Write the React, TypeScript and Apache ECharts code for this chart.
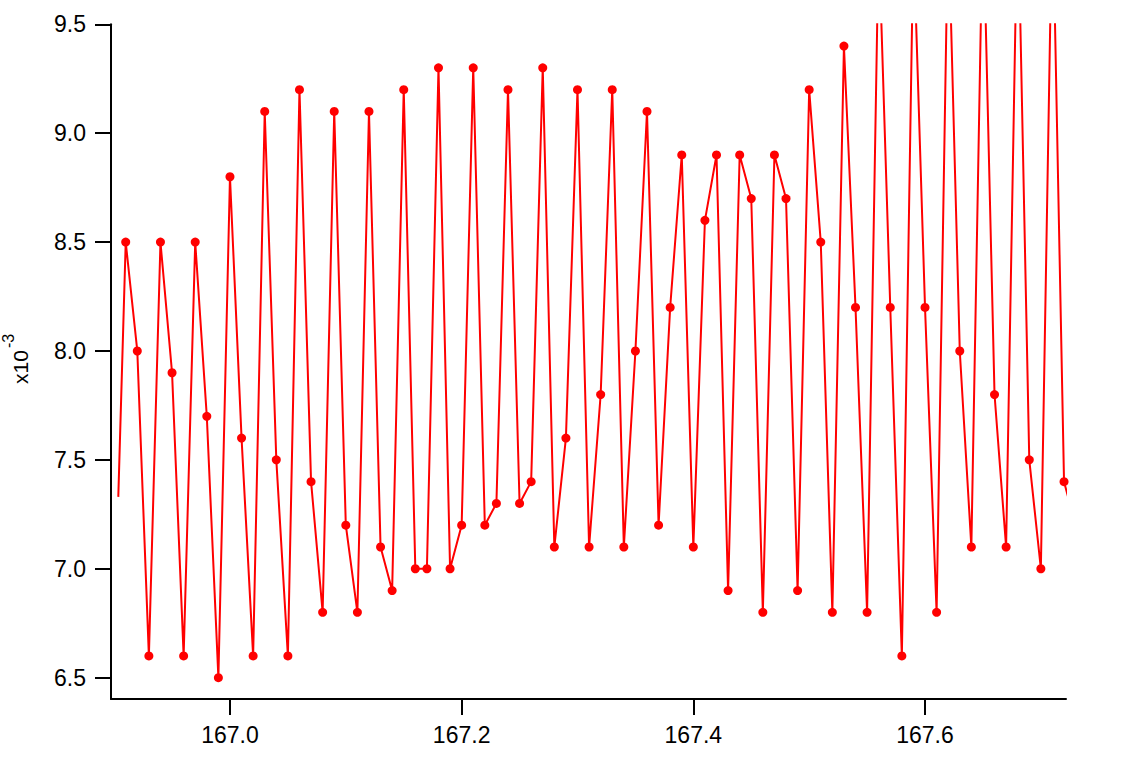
import React, { useEffect, useRef } from "react";
import * as echarts from "echarts";

// x positions of samples (the first is a partial segment entering the plot, the last one is clipped at the right edge)
const xValues = [
  166.9036, 166.91, 166.92, 166.93, 166.94, 166.95, 166.96, 166.97, 166.98, 166.99,
  167.0, 167.01, 167.02, 167.03, 167.04, 167.05, 167.06, 167.07, 167.08, 167.09,
  167.1, 167.11, 167.12, 167.13, 167.14, 167.15, 167.16, 167.17, 167.18, 167.19,
  167.2, 167.21, 167.22, 167.23, 167.24, 167.25, 167.26, 167.27, 167.28, 167.29,
  167.3, 167.31, 167.32, 167.33, 167.34, 167.35, 167.36, 167.37, 167.38, 167.39,
  167.4, 167.41, 167.42, 167.43, 167.44, 167.45, 167.46, 167.47, 167.48, 167.49,
  167.5, 167.51, 167.52, 167.53, 167.54, 167.55, 167.56, 167.57, 167.58, 167.59,
  167.6, 167.61, 167.62, 167.63, 167.64, 167.65, 167.66, 167.67, 167.68, 167.69,
  167.7, 167.71, 167.72, 167.73,
];

// values in units of 1e-3
const yValues = [
  7.33, 8.5, 8.0, 6.6, 8.5, 7.9, 6.6, 8.5, 7.7, 6.5,
  8.8, 7.6, 6.6, 9.1, 7.5, 6.6, 9.2, 7.4, 6.8, 9.1,
  7.2, 6.8, 9.1, 7.1, 6.9, 9.2, 7.0, 7.0, 9.3, 7.0,
  7.2, 9.3, 7.2, 7.3, 9.2, 7.3, 7.4, 9.3, 7.1, 7.6,
  9.2, 7.1, 7.8, 9.2, 7.1, 8.0, 9.1, 7.2, 8.2, 8.9,
  7.1, 8.6, 8.9, 6.9, 8.9, 8.7, 6.8, 8.9, 8.7, 6.9,
  9.2, 8.5, 6.8, 9.4, 8.2, 6.8, 9.9, 8.2, 6.6, 9.9,
  8.2, 6.8, 10.0, 8.0, 7.1, 10.05, 7.8, 7.1, 10.1, 7.5,
  7.0, 10.1, 7.4, 7.2,
];

const yTicks = [6.5, 7.0, 7.5, 8.0, 8.5, 9.0, 9.5];
const xTicks = [167.0, 167.2, 167.4, 167.6];

const X_MIN = 166.8973;
const X_MAX = 167.7217;
const Y_MIN = 6.402;
const Y_MAX = 9.5;

const FONT = "'Liberation Sans', Arial, Helvetica, sans-serif";

export default function App() {
  const ref = useRef<HTMLDivElement>(null);

  useEffect(() => {
    if (!ref.current) return;
    const chart = echarts.init(ref.current, null, { renderer: "svg" });
    const data = xValues.map((x, i) =>
      i === 0
        ? { value: [x, yValues[i]], symbol: "none" }
        : { value: [x, yValues[i]] }
    );
    chart.setOption({
      animation: false,
      backgroundColor: "#ffffff",
      grid: { left: 111, right: 58, top: 24.3, bottom: 81, containLabel: false },
      xAxis: {
        type: "value",
        min: X_MIN,
        max: X_MAX,
        axisLine: { show: true, lineStyle: { color: "#000", width: 2 } },
        axisTick: {
          show: true,
          length: 16,
          inside: false,
          customValues: xTicks,
          lineStyle: { color: "#000", width: 2 },
        },
        axisLabel: {
          show: true,
          customValues: xTicks,
          margin: 24,
          fontSize: 23,
          fontFamily: FONT,
          color: "#000",
          formatter: (v: number) => v.toFixed(1),
        },
        splitLine: { show: false },
      },
      yAxis: {
        type: "value",
        min: Y_MIN,
        max: Y_MAX,
        axisLine: { show: true, lineStyle: { color: "#000", width: 2 } },
        axisTick: {
          show: true,
          length: 16,
          inside: false,
          customValues: yTicks,
          lineStyle: { color: "#000", width: 2 },
        },
        axisLabel: {
          show: true,
          customValues: yTicks,
          margin: 25,
          fontSize: 23,
          fontFamily: FONT,
          color: "#000",
          formatter: (v: number) => v.toFixed(1),
        },
        splitLine: { show: false },
      },
      graphic: [
        {
          type: "text",
          x: 20.6,
          y: 367,
          rotation: Math.PI / 2,
          style: {
            text: "x10",
            fontSize: 21,
            fontFamily: FONT,
            fill: "#000",
            align: "center",
            verticalAlign: "middle",
          },
        },
        {
          type: "text",
          x: 8.4,
          y: 341,
          rotation: Math.PI / 2,
          style: {
            text: "-3",
            fontSize: 16,
            fontFamily: FONT,
            fill: "#000",
            align: "center",
            verticalAlign: "middle",
          },
        },
      ],
      series: [
        {
          type: "line",
          data,
          clip: true,
          symbol: "circle",
          symbolSize: 9,
          showAllSymbol: true,
          itemStyle: { color: "#ff0000" },
          lineStyle: { color: "#ff0000", width: 2 },
        },
      ],
    });
    return () => chart.dispose();
  }, []);

  return (
    <div
      ref={ref}
      style={{ position: "fixed", left: 0, top: 0, width: 1124, height: 780 }}
    />
  );
}
